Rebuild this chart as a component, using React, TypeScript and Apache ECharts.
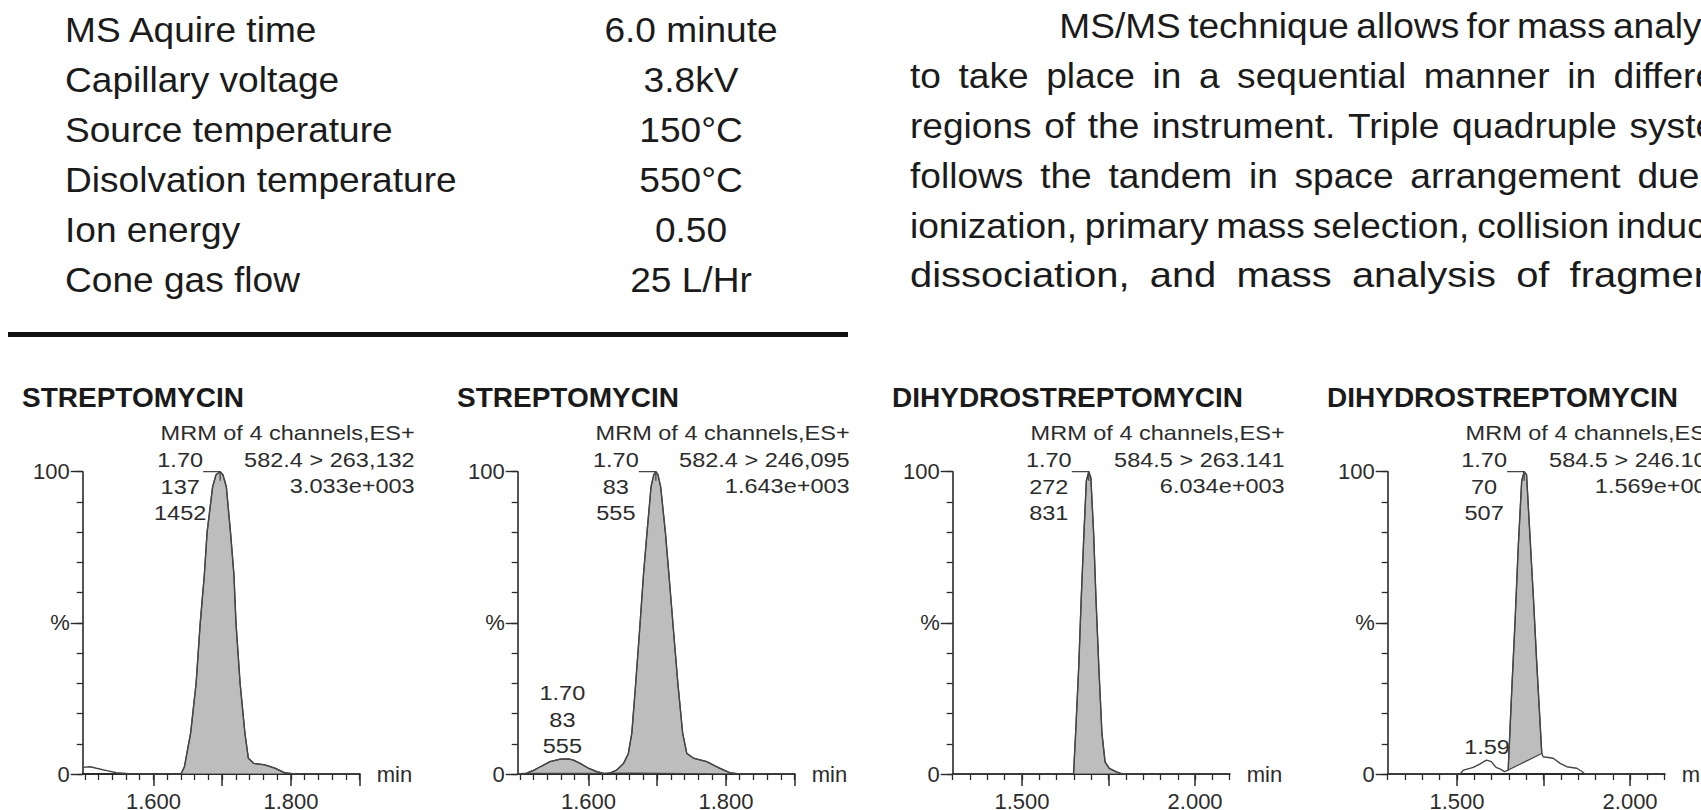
import React, { useEffect, useRef } from 'react';
import * as echarts from 'echarts';

// ---------------- page text ----------------
const TABLE_LABELS = [
  'MS Aquire time',
  'Capillary voltage',
  'Source temperature',
  'Disolvation temperature',
  'Ion energy',
  'Cone gas flow',
];
const TABLE_VALUES = ['6.0 minute', '3.8kV', '150°C', '550°C', '0.50', '25 L/Hr'];
const PARAGRAPH_LINES = [
  'MS/MS technique allows for mass analysis',
  'to take place in a sequential manner in different',
  'regions of the instrument. Triple quadruple system',
  'follows the tandem in space arrangement due to',
  'ionization, primary mass selection, collision induced',
  'dissociation, and mass analysis of fragments',
];

// ---------------- chromatogram panels ----------------
const TITLES = ['STREPTOMYCIN', 'STREPTOMYCIN', 'DIHYDROSTREPTOMYCIN', 'DIHYDROSTREPTOMYCIN'];
const SCAN_MODES = ['MRM of 4 channels,ES+', 'MRM of 4 channels,ES+', 'MRM of 4 channels,ES+', 'MRM of 4 channels,ES+'];
const TRANSITIONS = ['582.4 > 263,132', '582.4 > 246,095', '584.5 > 263.141', '584.5 > 246.105'];
const INTENSITIES = ['3.033e+003', '1.643e+003', '6.034e+003', '1.569e+003'];

// Panel 1 : STREPTOMYCIN 582.4 > 263,132
const P1_TIME = [1.497, 1.508, 1.517, 1.532, 1.546, 1.570, 1.640, 1.645, 1.654, 1.662, 1.668, 1.674, 1.678, 1.686, 1.691, 1.697, 1.701, 1.706, 1.712, 1.717, 1.720, 1.726, 1.733, 1.738, 1.746, 1.762, 1.777, 1.791, 1.806, 1.900];
const P1_PCT = [2.2, 2.4, 1.9, 1.1, 0.4, 0, 0, 2.4, 13.5, 30, 50, 66, 80, 95, 99, 100, 99, 95, 80, 66, 50, 30, 13.5, 5.2, 3.5, 3, 1.9, 0.4, 0, 0];
const P1_FILLS = [[1.640, 1.806]];
const P1_LABELS = [{ t: 1.697, pct: 100, kind: 'apex', lines: ['1.70', '137', '1452'] }];

// Panel 2 : STREPTOMYCIN 582.4 > 246,095
const P2_TIME = [1.497, 1.510, 1.520, 1.530, 1.544, 1.559, 1.571, 1.578, 1.588, 1.600, 1.612, 1.622, 1.632, 1.641, 1.651, 1.658, 1.663, 1.668, 1.674, 1.680, 1.685, 1.691, 1.695, 1.698, 1.701, 1.705, 1.712, 1.717, 1.724, 1.730, 1.737, 1.743, 1.753, 1.772, 1.791, 1.806, 1.820, 1.900];
const P2_PCT = [0, 0.3, 1.2, 2.4, 4.1, 4.9, 5.0, 4.6, 3.5, 1.9, 0.8, 0.2, 0.4, 1.3, 3.5, 6.8, 13.5, 28, 46.5, 66, 79.6, 95, 99, 100, 99, 95, 79.6, 66, 46.5, 30, 13.5, 6.8, 5.2, 4.1, 1.9, 0.4, 0, 0];
const P2_FILLS = [[1.510, 1.622], [1.632, 1.820]];
const P2_LABELS = [
  { t: 1.698, pct: 100, kind: 'apex', lines: ['1.70', '83', '555'] },
  { t: 1.562, pct: 5.0, kind: 'above', lines: ['1.70', '83', '555'] },
];

// Panel 3 : DIHYDROSTREPTOMYCIN 584.5 > 263.141
const P3_TIME = [1.300, 1.649, 1.655, 1.664, 1.671, 1.679, 1.686, 1.693, 1.699, 1.707, 1.714, 1.722, 1.731, 1.740, 1.752, 1.771, 1.790, 2.100];
const P3_PCT = [0, 0, 13.5, 35.5, 57.5, 79.6, 97, 100, 98, 79.6, 57.5, 35.5, 13.5, 4, 1.9, 0.8, 0, 0];
const P3_FILLS = [[1.649, 1.790]];
const P3_LABELS = [{ t: 1.693, pct: 100, kind: 'apex', lines: ['1.70', '272', '831'] }];

// Panel 4 : DIHYDROSTREPTOMYCIN 584.5 > 246.10x
const P4_TIME = [1.300, 1.509, 1.519, 1.547, 1.566, 1.585, 1.599, 1.613, 1.627, 1.637, 1.648, 1.658, 1.668, 1.677, 1.687, 1.694, 1.701, 1.711, 1.721, 1.730, 1.745, 1.749, 1.778, 1.798, 1.817, 1.846, 1.860, 1.870, 2.100];
const P4_PCT = [0, 0, 1.3, 2.2, 3.3, 4.6, 4.1, 2.2, 1.5, 0.8, 1.3, 27, 51, 75, 97, 100, 99, 78.5, 58, 37.6, 6.8, 5.7, 5.2, 3.5, 2.4, 1.9, 0.9, 0, 0];
const P4_FILLS = [[1.648, 1.745]];
const P4_LABELS = [
  { t: 1.694, pct: 100, kind: 'apex', lines: ['1.70', '70', '507'] },
  { t: 1.587, pct: 4.6, kind: 'above', lines: ['1.59'] },
];

// axes
const X_MIN = [1.497, 1.497, 1.3, 1.3];
const X_MAX = [1.9, 1.9, 2.1, 2.1];
const X_LABEL_VALUES = [[1.6, 1.8], [1.6, 1.8], [1.5, 2.0], [1.5, 2.0]];
const X_MAJOR_TICKS = [[1.6, 1.7, 1.8, 1.9], [1.6, 1.7, 1.8, 1.9], [1.5, 1.75, 2.0], [1.5, 1.75, 2.0]];
const X_MINOR_STEP = [0.02, 0.02, 0.05, 0.05];
const X_UNIT = 'min';
const Y_LABEL_VALUES = [0, 50, 100];
const Y_LABEL_TEXT = ['0', '%', '100'];
const Y_MINOR_STEP = 10;

// ---------------- layout & style ----------------
const W = 1701;
const H = 810;
const FONT = '"Liberation Sans", Arial, Helvetica, sans-serif';
const PAGE_TEXT = '#1b1b1b';
const CHART_TEXT = '#2c2c2c';
const AXIS_COLOR = '#2a2a2a';
const TRACE_COLOR = '#454545';
const FILL_COLOR = '#bdbdbd';

const BODY_SIZE = 35;
const BODY_SCALE_X = 1.06;
const TABLE_LABEL_X = 65;
const TABLE_VALUE_X = 691;
const TABLE_Y0 = 29.6;
const TABLE_DY = 50;
const PARA_LEFT = 910;
const PARA_INDENT = 1059.3;
const PARA_RIGHT = 1747;
const PARA_SCALE_X = [1.06, 1.06, 1.06, 1.06, 1.06, 1.14];
const PARA_Y0 = 26.2;
const PARA_DY = 49.8;

const AXIS_LEFT = [82.7, 517.7, 952.7, 1387.7];
const GRID_TOP = 471.7;
const GRID_H = 302.3;
const GRID_W = 277;
const ANN_SIZE = 21;
const ANN_SCALE_X = 1.12;
const ANN_LINE = 26.4;

const PANELS = [
  { time: P1_TIME, pct: P1_PCT, fills: P1_FILLS, labels: P1_LABELS },
  { time: P2_TIME, pct: P2_PCT, fills: P2_FILLS, labels: P2_LABELS },
  { time: P3_TIME, pct: P3_PCT, fills: P3_FILLS, labels: P3_LABELS },
  { time: P4_TIME, pct: P4_PCT, fills: P4_FILLS, labels: P4_LABELS },
];

function stepValues(min: number, max: number, step: number): number[] {
  const out: number[] = [];
  const a = Math.ceil(min / step - 1e-9);
  const b = Math.floor(max / step + 1e-9);
  for (let i = a; i <= b; i++) out.push(+(i * step).toFixed(6));
  return out;
}

function annText(text: string, x: number, y: number, align: string) {
  return {
    type: 'text',
    x,
    y,
    scaleX: ANN_SCALE_X,
    style: { text, fill: CHART_TEXT, fontSize: ANN_SIZE, fontFamily: FONT, align, verticalAlign: 'middle' },
  };
}

function buildOption() {
  const grid: any[] = [];
  const xAxis: any[] = [];
  const yAxis: any[] = [];
  const series: any[] = [];
  const graphic: any[] = [];

  PANELS.forEach((p, k) => {
    grid.push({ left: AXIS_LEFT[k], top: GRID_TOP, width: GRID_W, height: GRID_H, containLabel: false, outerBoundsMode: 'none' });

    xAxis.push({
      type: 'value', gridIndex: k, min: X_MIN[k], max: X_MAX[k], position: 'bottom',
      axisLine: { show: true, onZero: false, lineStyle: { color: AXIS_COLOR, width: 2 } },
      axisTick: { show: true, customValues: X_MAJOR_TICKS[k], length: 12, lineStyle: { color: AXIS_COLOR, width: 1.5 } },
      axisLabel: {
        show: true, customValues: X_LABEL_VALUES[k], formatter: (v: number) => v.toFixed(3),
        margin: 16, color: CHART_TEXT, fontSize: 22, fontFamily: FONT,
      },
      splitLine: { show: false },
      name: X_UNIT, nameLocation: 'end', nameGap: 17,
      nameTextStyle: { color: CHART_TEXT, fontSize: 22, fontFamily: FONT },
    });
    xAxis.push({
      type: 'value', gridIndex: k, min: X_MIN[k], max: X_MAX[k], position: 'bottom',
      axisLine: { show: false, onZero: false },
      axisTick: { show: true, customValues: stepValues(X_MIN[k], X_MAX[k], X_MINOR_STEP[k]), length: 6, lineStyle: { color: AXIS_COLOR, width: 1.3 } },
      axisLabel: { show: false },
      splitLine: { show: false },
    });
    yAxis.push({
      type: 'value', gridIndex: k, min: 0, max: 100, position: 'left',
      axisLine: { show: true, onZero: false, lineStyle: { color: AXIS_COLOR, width: 1.6 } },
      axisTick: { show: true, customValues: Y_LABEL_VALUES, length: 12, lineStyle: { color: AXIS_COLOR, width: 1.4 } },
      axisLabel: {
        show: true, customValues: Y_LABEL_VALUES,
        formatter: (v: number) => Y_LABEL_TEXT[Y_LABEL_VALUES.indexOf(v)] ?? '',
        margin: 13, color: CHART_TEXT, fontSize: 22, fontFamily: FONT,
      },
      splitLine: { show: false },
    });
    yAxis.push({
      type: 'value', gridIndex: k, min: 0, max: 100, position: 'left',
      axisLine: { show: false, onZero: false },
      axisTick: { show: true, customValues: stepValues(0, 100, Y_MINOR_STEP), length: 6, lineStyle: { color: AXIS_COLOR, width: 1.3 } },
      axisLabel: { show: false },
      splitLine: { show: false },
    });

    const pairs = p.time.map((t, i) => [t, p.pct[i]]);

    p.fills.forEach(([a, b]) => {
      series.push({
        type: 'custom', xAxisIndex: 2 * k, yAxisIndex: 2 * k, z: 2, silent: true, clip: true,
        data: [[a, 0]],
        renderItem: (_params: any, api: any) => {
          const pts = pairs.filter(([t]) => t >= a - 1e-9 && t <= b + 1e-9).map((pt) => api.coord(pt));
          return { type: 'polygon', shape: { points: pts }, style: { fill: FILL_COLOR, stroke: TRACE_COLOR, lineWidth: 1.2 } };
        },
      });
    });

    series.push({
      type: 'line', xAxisIndex: 2 * k, yAxisIndex: 2 * k, z: 3, silent: true,
      data: pairs, showSymbol: false, symbol: 'none',
      lineStyle: { color: TRACE_COLOR, width: 1.4 },
    });

    const labels = p.labels;
    series.push({
      type: 'custom', xAxisIndex: 2 * k, yAxisIndex: 2 * k, z: 4, silent: true, clip: false,
      data: labels.map((l) => [l.t, l.pct]),
      renderItem: (params: any, api: any) => {
        const spec = labels[params.dataIndex];
        const [x, y] = api.coord([spec.t, spec.pct]);
        const children: any[] = [];
        if (spec.kind === 'apex') {
          spec.lines.forEach((s, i) => children.push(annText(s, x - 40, y - 11.4 + i * ANN_LINE, 'center')));
          children.push({
            type: 'polyline',
            shape: { points: [[x - 17, y], [x, y], [x, y + 9]] },
            style: { stroke: TRACE_COLOR, lineWidth: 1.3, fill: null },
          });
        } else {
          const n = spec.lines.length;
          spec.lines.forEach((s, i) => children.push(annText(s, x, y - 13 - (n - 1 - i) * ANN_LINE, 'center')));
        }
        return { type: 'group', children };
      },
    });

    // titles and headers
    graphic.push({
      type: 'text', x: AXIS_LEFT[k] - 60.7, y: 397.8,
      style: { text: TITLES[k], fill: '#1a1a1a', fontSize: 28, fontWeight: 'bold', fontFamily: FONT, align: 'left', verticalAlign: 'middle' },
    });
    const hx = AXIS_LEFT[k] + 332;
    graphic.push(annText(SCAN_MODES[k], hx, 433, 'right'));
    graphic.push(annText(TRANSITIONS[k], hx, 459.5, 'right'));
    graphic.push(annText(INTENSITIES[k], hx, 486, 'right'));
  });

  // table
  TABLE_LABELS.forEach((lab, i) => {
    const y = TABLE_Y0 + i * TABLE_DY;
    graphic.push({
      type: 'text', x: TABLE_LABEL_X, y, scaleX: BODY_SCALE_X,
      style: { text: lab, fill: PAGE_TEXT, fontSize: BODY_SIZE, fontFamily: FONT, align: 'left', verticalAlign: 'middle' },
    });
    graphic.push({
      type: 'text', x: TABLE_VALUE_X, y, scaleX: BODY_SCALE_X,
      style: { text: TABLE_VALUES[i], fill: PAGE_TEXT, fontSize: BODY_SIZE, fontFamily: FONT, align: 'center', verticalAlign: 'middle' },
    });
  });

  // rule under the table
  graphic.push({ type: 'rect', shape: { x: 8, y: 332, width: 840, height: 5 }, style: { fill: '#111111' } });

  // justified paragraph
  const canvas = document.createElement('canvas');
  const ctx = canvas.getContext('2d') as CanvasRenderingContext2D;
  ctx.font = `${BODY_SIZE}px "Liberation Sans", Arial, sans-serif`;
  PARAGRAPH_LINES.forEach((line, i) => {
    const sx = PARA_SCALE_X[i];
    const words = line.split(' ');
    const left = i === 0 ? PARA_INDENT : PARA_LEFT;
    const widths = words.map((w) => ctx.measureText(w).width * sx);
    const total = widths.reduce((s, v) => s + v, 0);
    const gap = words.length > 1 ? (PARA_RIGHT - left - total) / (words.length - 1) : 0;
    let x = left;
    const y = PARA_Y0 + i * PARA_DY;
    words.forEach((w, j) => {
      graphic.push({
        type: 'text', x, y, scaleX: sx,
        style: { text: w, fill: PAGE_TEXT, fontSize: BODY_SIZE, fontFamily: FONT, align: 'left', verticalAlign: 'middle' },
      });
      x += widths[j] + gap;
    });
  });

  return {
    animation: false,
    backgroundColor: '#ffffff',
    grid,
    xAxis,
    yAxis,
    series,
    graphic: { elements: graphic },
  };
}

export default function App() {
  const ref = useRef<HTMLDivElement | null>(null);
  useEffect(() => {
    if (!ref.current) return;
    const chart = echarts.init(ref.current, null, { renderer: 'svg', width: W, height: H });
    chart.setOption(buildOption() as any);
    return () => chart.dispose();
  }, []);
  return (
    <div
      ref={ref}
      style={{ position: 'fixed', left: 0, top: 0, width: W, height: H, background: '#ffffff' }}
    />
  );
}
